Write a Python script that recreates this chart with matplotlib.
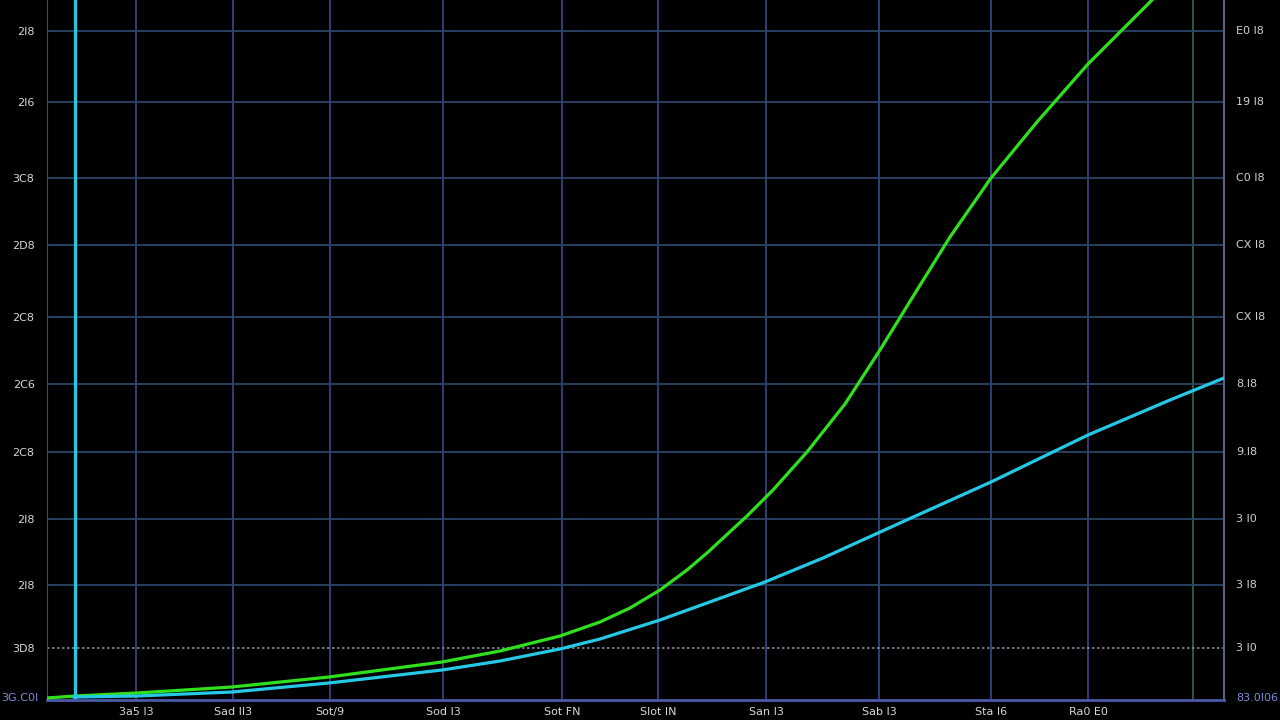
import matplotlib
matplotlib.use("Agg")
import matplotlib.pyplot as plt

# x in chart units (0 = left spine), y in chart units (0 = bottom spine)
x_ticks = [89, 186, 283, 396, 515, 611, 719, 832, 944, 1041]
x_labels = ["3a5 I3", "Sad II3", "Sot/9", "Sod I3", "Sot FN",
            "Slot IN", "San I3", "Sab I3", "Sta I6", "Ra0 E0"]
x_extra_grid = 1146

y_ticks = [52, 115, 181, 248, 316, 383, 455, 522, 598, 669]
y_labels_left = ["3D8", "2I8", "2I8", "2C8", "2C6", "2C8", "2D8", "3C8", "2I6", "2I8"]
y_labels_right = ["3 I0", "3 I8", "3 I0", "9.I8", "8.I8", "CX I8", "CX I8", "C0 I8", "19 I8", "E0 I8"]
corner_left = "3G.C0I"
corner_right = "83.0I06"

# green series
green_x = [0, 28, 90, 185, 282, 395, 453, 513, 553, 583, 613, 640, 660, 700,
           726, 760, 798, 833, 870, 903, 944, 990, 1041, 1076, 1105]
green_y = [2, 4, 7, 13, 23, 38, 49, 64, 78, 92, 110, 130, 147, 184,
           210, 248, 296, 350, 410, 463, 522, 578, 636, 671, 700]

# cyan series
cyan_x = [27, 90, 185, 282, 395, 453, 513, 553, 613, 660, 718, 776, 853, 944, 1041, 1123, 1177]
cyan_y = [3, 4, 8, 17, 30, 39, 51, 61, 80, 97, 118, 142, 177, 218, 265, 300, 322]
cyan_spike_x = 28

fig = plt.figure(figsize=(12.8, 7.2), dpi=100, facecolor="black")
ax = fig.add_axes([47 / 1280, 20 / 720, 1177 / 1280, 700 / 720])
ax.set_facecolor("black")
ax.set_xlim(0, 1177)
ax.set_ylim(0, 700)

for xv in x_ticks:
    ax.axvline(xv, color="#34447e", lw=1.3, zorder=1)
ax.axvline(x_extra_grid, color="#2d6a55", lw=1.2, zorder=1)
for yv in y_ticks[1:]:
    ax.axhline(yv, color="#2c4468", lw=1.3, zorder=1)
ax.axhline(y_ticks[0], color="#8088a0", lw=1.2, ls=(0, (1.5, 1.5)), zorder=1)

ax.plot(green_x, green_y, color="#2fe01c", lw=2.3, zorder=3, solid_joinstyle="round")
ax.plot(cyan_x, cyan_y, color="#25c9e6", lw=2.3, zorder=4, solid_joinstyle="round")
ax.plot([cyan_spike_x, cyan_spike_x], [cyan_y[0], 700], color="#25c9e6", lw=2.3, zorder=4)

ax.spines["top"].set_visible(False)
ax.spines["left"].set_color("#3a4a80")
ax.spines["bottom"].set_color("#4a5aa8")
ax.spines["bottom"].set_linewidth(2)
ax.spines["right"].set_color("#5a6480")
ax.spines["right"].set_linewidth(1.5)

ax.set_xticks(x_ticks)
ax.set_xticklabels(x_labels)
ax.set_yticks(y_ticks)
ax.set_yticklabels(y_labels_left)
ax.tick_params(length=0, colors="#d8d8d8", labelsize=8)
ax.tick_params(axis="x", pad=5)
ax.tick_params(axis="y", pad=9)

for yv, lab in zip(y_ticks, y_labels_right):
    ax.text(1177 + 12, yv, lab, color="#d0d0d0", fontsize=8, va="center", ha="left")
ax.text(-9, 2, corner_left, color="#7f8cd8", fontsize=8, va="center", ha="right")
ax.text(1177 + 12, 2, corner_right, color="#7f8cd8", fontsize=8, va="center", ha="left")

fig.savefig("out.png", dpi=100, facecolor="black")
